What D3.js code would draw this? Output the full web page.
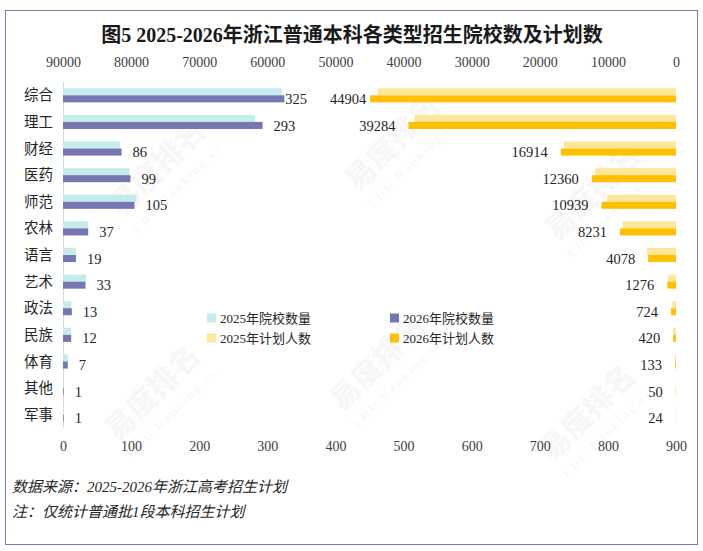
<!DOCTYPE html>
<html>
<head>
<meta charset="utf-8">
<script src="https://cdn.jsdelivr.net/npm/d3@7/dist/d3.min.js"></script>
<style>
  html, body { margin: 0; padding: 0; background: #fff; }
  svg { display: block; }
  .num { font-family: "Liberation Serif", "Times New Roman", "Noto Sans CJK SC", serif; }
</style>
</head>
<body>
<div id="chart"></div>
<script>
// categories and values
const categories = ["综合", "理工", "财经", "医药", "师范", "农林", "语言", "艺术", "政法", "民族", "体育", "其他", "军事"];
const schools2025 = [321, 282, 84, 98, 108, 37, 19, 34, 12, 12, 7, 1, 1];
const schools2026 = [325, 293, 86, 99, 105, 37, 19, 33, 13, 12, 7, 1, 1];
const plan2025 = [43800, 38400, 16500, 11850, 10100, 7850, 4250, 1150, 560, 390, 180, 50, 30];
const plan2026 = [44904, 39284, 16914, 12360, 10939, 8231, 4078, 1276, 724, 420, 133, 50, 24];
const schoolTicks = [0, 100, 200, 300, 400, 500, 600, 700, 800, 900];
const planTicks = [90000, 80000, 70000, 60000, 50000, 40000, 30000, 20000, 10000, 0];
const legendNames = ["2025年院校数量", "2026年院校数量", "2025年计划人数", "2026年计划人数"];

const width = 703, height = 551;
const serif = '"Liberation Serif", "Times New Roman", "Noto Sans CJK SC", serif';
const colors = { s25: "#c6ecea", s26: "#7576b2", p25: "#ffe699", p26: "#ffc000" };

const svg = d3.select("#chart").append("svg")
  .attr("width", width)
  .attr("height", height);

svg.append("rect")
  .attr("x", 5.5).attr("y", 10.5)
  .attr("width", 692).attr("height", 534)
  .attr("fill", "#fff")
  .attr("stroke", "#7b7bb3")
  .attr("stroke-width", 1);

// faint watermark, kept inside the frame
const wm = svg.append("g").attr("fill", "#000").attr("fill-opacity", 0.05).style("pointer-events", "none");
const wmSpots = [[165, 175], [400, 150], [600, 200], [160, 400], [385, 370], [595, 420]];
wmSpots.forEach(function (p) {
  const g = wm.append("g").attr("transform", "translate(" + p[0] + "," + p[1] + ") rotate(-45)");
  g.append("text").attr("text-anchor", "middle")
    .style("font-family", '"Noto Sans CJK SC", sans-serif').style("font-weight", 900).style("font-size", "30px")
    .text("易度排名");
  g.append("text").attr("text-anchor", "middle").attr("y", 22)
    .style("font-family", serif).style("font-weight", 700).style("font-size", "13px").attr("letter-spacing", "2px")
    .text("EDU Ranking.cn");
});

// title
svg.append("text")
  .attr("x", 352).attr("y", 42)
  .attr("text-anchor", "middle")
  .style("font-family", serif)
  .style("font-weight", 700)
  .style("font-size", "20px")
  .attr("fill", "#1a1a1a")
  .text("图5 2025-2026年浙江普通本科各类型招生院校数及计划数");

const x = d3.scaleLinear().domain([0, 900]).range([63, 676]);
const xTop = d3.scaleLinear().domain([90000, 0]).range([63, 676]);

const y = d3.scaleBand()
  .domain(categories)
  .range([82, 428])
  .paddingInner(0.47)
  .paddingOuter(0.235);

const sub = d3.scaleBand().domain(["a", "b"]).range([0, y.bandwidth()]);

function styleTicks(g) {
  g.select(".domain").remove();
  g.selectAll("text")
    .style("font-family", '"Liberation Serif", "Times New Roman", serif')
    .style("font-size", "14px")
    .attr("fill", "#404040");
}

// axes
svg.append("g")
  .attr("transform", "translate(0,67)")
  .call(d3.axisTop(xTop).tickValues(planTicks).tickSize(0).tickPadding(0).tickFormat(d3.format("d")))
  .call(styleTicks);

svg.append("g")
  .attr("transform", "translate(0,441)")
  .call(d3.axisBottom(x).tickValues(schoolTicks).tickSize(0).tickPadding(0))
  .call(styleTicks);

svg.append("line")
  .attr("x1", x(0) + 0.5).attr("x2", x(0) + 0.5)
  .attr("y1", y.range()[0]).attr("y2", y.range()[1])
  .attr("stroke", "#d9d9d9");

// category labels
svg.append("g").selectAll("text")
  .data(categories)
  .enter().append("text")
  .attr("x", 53)
  .attr("y", function (d) { return y(d) + y.bandwidth() / 2; })
  .attr("dy", "0.35em")
  .attr("text-anchor", "end")
  .style("font-family", serif)
  .style("font-size", "14.5px")
  .attr("fill", "#262626")
  .text(function (d) { return d; });

const rows = categories.map(function (c, i) {
  return { cat: c, s25: schools2025[i], s26: schools2026[i], p25: plan2025[i], p26: plan2026[i] };
});

const bars = svg.append("g");
// school bars grow from the left
bars.selectAll(".s25").data(rows).enter().append("rect")
  .attr("x", x(0)).attr("y", function (d) { return y(d.cat) + sub("a"); })
  .attr("width", function (d) { return x(d.s25) - x(0); }).attr("height", sub.bandwidth())
  .attr("fill", colors.s25);
bars.selectAll(".s26").data(rows).enter().append("rect")
  .attr("x", x(0)).attr("y", function (d) { return y(d.cat) + sub("b"); })
  .attr("width", function (d) { return x(d.s26) - x(0); }).attr("height", sub.bandwidth())
  .attr("fill", colors.s26);
// plan bars grow from the right
bars.selectAll(".p25").data(rows).enter().append("rect")
  .attr("x", function (d) { return xTop(d.p25); }).attr("y", function (d) { return y(d.cat) + sub("a"); })
  .attr("width", function (d) { return xTop(0) - xTop(d.p25); }).attr("height", sub.bandwidth())
  .attr("fill", colors.p25);
bars.selectAll(".p26").data(rows).enter().append("rect")
  .attr("x", function (d) { return xTop(d.p26); }).attr("y", function (d) { return y(d.cat) + sub("b"); })
  .attr("width", function (d) { return xTop(0) - xTop(d.p26); }).attr("height", sub.bandwidth())
  .attr("fill", colors.p26);

// value labels, pulled in when the two sides would collide
const labelSize = 14.5, digitW = labelSize * 0.5;
rows.forEach(function (d) {
  let gapL = 11, gapR = 13;
  const lEnd = x(d.s26) + gapL + String(d.s26).length * digitW;
  const rStart = xTop(d.p26) - gapR - String(d.p26).length * digitW;
  if (lEnd > rStart - 4) { gapL = 1; gapR = 4; }
  const ty = y(d.cat) + sub("b") + sub.bandwidth() / 2;
  svg.append("text").attr("class", "num")
    .attr("x", x(d.s26) + gapL).attr("y", ty).attr("dy", "0.35em")
    .style("font-size", labelSize + "px").attr("fill", "#262626")
    .text(d.s26);
  svg.append("text").attr("class", "num")
    .attr("x", xTop(d.p26) - gapR).attr("y", ty).attr("dy", "0.35em")
    .attr("text-anchor", "end")
    .style("font-size", labelSize + "px").attr("fill", "#262626")
    .text(d.p26);
});

// legend
const legendPos = [[207, 318], [390, 318], [207, 338], [390, 338]];
const legendColors = [colors.s25, colors.s26, colors.p25, colors.p26];
const lg = svg.append("g").selectAll("g")
  .data(legendNames)
  .enter().append("g")
  .attr("transform", function (d, i) { return "translate(" + legendPos[i][0] + "," + legendPos[i][1] + ")"; });
lg.append("rect").attr("x", 0).attr("y", -4.5).attr("width", 9).attr("height", 9)
  .attr("fill", function (d, i) { return legendColors[i]; });
lg.append("text").attr("x", 13).attr("dy", "0.35em")
  .style("font-family", serif).style("font-size", "13px").attr("fill", "#262626")
  .text(function (d) { return d; });

// notes
const notes = ["数据来源：2025-2026年浙江高考招生计划", "注：仅统计普通批1段本科招生计划"];
svg.append("g").selectAll("text")
  .data(notes)
  .enter().append("text")
  .attr("x", 12)
  .attr("y", function (d, i) { return 492 + i * 25; })
  .style("font-family", serif).style("font-style", "italic").style("font-size", "15px")
  .attr("fill", "#262626")
  .text(function (d) { return d; });
</script>
</body>
</html>
